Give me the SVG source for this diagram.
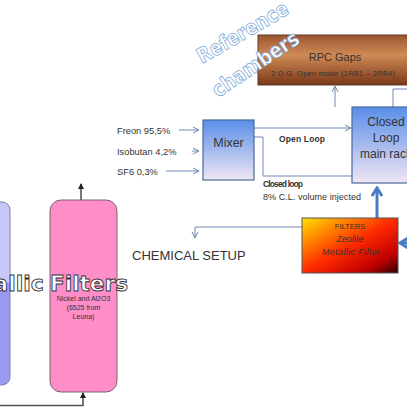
<svg xmlns="http://www.w3.org/2000/svg" width="407" height="407" viewBox="0 0 407 407">
<defs>
<style>
.t{font-family:"Liberation Sans",Arial,sans-serif;fill:#333}
.ln{fill:none;stroke:#6f88b4;stroke-width:1}
.thick{fill:none;stroke:#4a7cc4;stroke-width:3}
.dk{fill:none;stroke:#555;stroke-width:1.6}
.out{font-family:"DejaVu Sans",sans-serif;font-weight:bold;fill:#fff}
</style>
<linearGradient id="gBlue" x1="0" y1="0" x2="0" y2="1">
<stop offset="0" stop-color="#5a8ee8"/><stop offset="1" stop-color="#f0e6f4"/>
</linearGradient>
<linearGradient id="gRpc" x1="0" y1="0" x2="0" y2="1">
<stop offset="0" stop-color="#9a5530"/><stop offset="0.4" stop-color="#d08a55"/><stop offset="1" stop-color="#7a3818"/>
</linearGradient>
<linearGradient id="gFil" x1="0" y1="0" x2="1" y2="1">
<stop offset="0" stop-color="#ffe000"/><stop offset="0.5" stop-color="#ff2a00"/><stop offset="0.8" stop-color="#c00000"/><stop offset="1" stop-color="#300000"/>
</linearGradient>
<marker id="aV" markerWidth="8" markerHeight="8" refX="7" refY="4" orient="auto" markerUnits="userSpaceOnUse">
<path d="M1,1 L7,4 L1,7" fill="none" stroke="#6f88b4" stroke-width="1"/>
</marker>
<marker id="aT" markerWidth="12" markerHeight="12" refX="10" refY="6" orient="auto" markerUnits="userSpaceOnUse">
<path d="M2,1 L10,6 L2,11" fill="none" stroke="#4a7cc4" stroke-width="3"/>
</marker>
<marker id="aK" markerWidth="6" markerHeight="6" refX="5" refY="3" orient="auto" markerUnits="userSpaceOnUse">
<path d="M0,0 L6,3 L0,6 z" fill="#222"/>
</marker>
</defs>
<rect width="407" height="407" fill="#fff"/>

<g id="connectors">
<line class="ln" x1="179" y1="130" x2="199" y2="130" marker-end="url(#aV)"/>
<line class="ln" x1="192" y1="151" x2="199" y2="151" marker-end="url(#aV)"/>
<line class="ln" x1="166" y1="171" x2="199" y2="171" marker-end="url(#aV)"/>
<line class="ln" x1="254" y1="128" x2="351" y2="128" marker-end="url(#aV)"/>
<polyline class="ln" points="254,137 263,137 263,176 352,176"/>
<line class="ln" x1="335" y1="107" x2="335" y2="86" marker-end="url(#aV)"/>
<polyline class="ln" points="393,107 393,89 407,89"/>
<polyline class="ln" points="302,227 195,227 195,238" marker-end="url(#aV)"/>
<line class="thick" x1="377" y1="218" x2="377" y2="188" marker-end="url(#aT)"/>
<line class="thick" x1="407" y1="243" x2="400" y2="243" marker-end="url(#aT)"/>
<line class="dk" x1="81" y1="200" x2="81" y2="184" marker-end="url(#aK)"/>
<polyline class="dk" points="0,405.5 83,405.5 83,393" marker-end="url(#aK)"/>
</g>

<g id="rpc">
<rect x="258" y="35" width="160" height="50" fill="url(#gRpc)" stroke="#5a3a2a" stroke-width="1"/>
<text class="t" x="335" y="61" font-size="11" text-anchor="middle" fill="#222">RPC Gaps</text>
<text class="t" x="333" y="76" font-size="7.5" text-anchor="middle" textLength="124" fill="#222">2 O.G. Open mode (1RB1 – 2RB4)</text>
</g>

<g id="mixer">
<rect x="203" y="120" width="51" height="60" fill="url(#gBlue)" stroke="#4a6a9a" stroke-width="1.2"/>
<text class="t" x="228.5" y="147" font-size="12.5" text-anchor="middle" fill="#1a2a50">Mixer</text>
</g>

<g id="closedloop">
<rect x="352" y="107" width="70" height="76" fill="url(#gBlue)" stroke="#4a6a9a" stroke-width="1.2"/>
<text class="t" x="386" y="126" font-size="12" text-anchor="middle" fill="#1a2a50">Closed</text>
<text class="t" x="386" y="142" font-size="12" text-anchor="middle" fill="#1a2a50">Loop</text>
<text class="t" x="386" y="158" font-size="12" text-anchor="middle" fill="#1a2a50">main rack</text>
</g>

<g id="filters">
<rect x="302" y="218" width="96" height="55" fill="url(#gFil)" stroke="#555" stroke-width="1"/>
<text class="t" x="350" y="229" font-size="7.5" text-anchor="middle" fill="#4a0a00">FILTERS</text>
<text class="t" x="350" y="242" font-size="9" font-style="italic" text-anchor="middle" fill="#700000">Zeolite</text>
<text class="t" x="351" y="255" font-size="9" font-style="italic" text-anchor="middle" fill="#700000" textLength="58">Metallic Filter</text>
</g>

<g id="labels">
<text class="t" x="117" y="134" font-size="9.3">Freon 95,5%</text>
<text class="t" x="117" y="154.5" font-size="9.3">Isobutan 4,2%</text>
<text class="t" x="117" y="174.5" font-size="9.3">SF6 0,3%</text>
<text class="t" x="279" y="142" font-size="8.5" font-weight="bold" fill="#111" textLength="46">Open Loop</text>
<text class="t" x="263" y="187" font-size="8.5" font-weight="bold" fill="#111" textLength="40">Closed loop</text>
<text class="t" x="263" y="200" font-size="9" textLength="98">8% C.L. volume injected</text>
<text class="t" x="132" y="260" font-size="13" fill="#222">CHEMICAL SETUP</text>
</g>

<g id="bluefilter">
<rect x="-20" y="202" width="30" height="183" rx="8" fill="#c8c8f8"/>
<path d="M-20,283 H10 V377 a8,8 0 0 1 -8,8 H-20 z" fill="#9a9af0"/>
<rect x="-20" y="202" width="30" height="183" rx="8" fill="none" stroke="#8080a8" stroke-width="1"/>
</g>

<g id="pinkfilter">
<rect x="50" y="200" width="67" height="192" rx="11" fill="#ff8ec8" stroke="#806070" stroke-width="1"/>
<text class="t" x="83.5" y="301" font-size="7" text-anchor="middle" fill="#502030">Nickel and Al2O3</text>
<text class="t" x="83.5" y="310" font-size="7" text-anchor="middle" fill="#502030">(6525 from</text>
<text class="t" x="83.5" y="319" font-size="7" text-anchor="middle" fill="#502030">Leuna)</text>
</g>

<g id="titles">
<text class="out" y="291" font-size="22" stroke="#333" stroke-width="0.9"><tspan x="-54">Metallic</tspan><tspan x="50" textLength="78" lengthAdjust="spacingAndGlyphs">Filters</tspan></text>
<g transform="translate(202,64) rotate(-30)">
<text class="out" x="0" y="0" font-size="21" textLength="102" lengthAdjust="spacingAndGlyphs" stroke="#7aa6d6" stroke-width="0.8">Reference</text>
</g>
<g transform="translate(218,98) rotate(-34)">
<text class="out" x="0" y="0" font-size="21" textLength="100" lengthAdjust="spacingAndGlyphs" stroke="#7aa6d6" stroke-width="0.8">chambers</text>
</g>
</g>
</svg>
